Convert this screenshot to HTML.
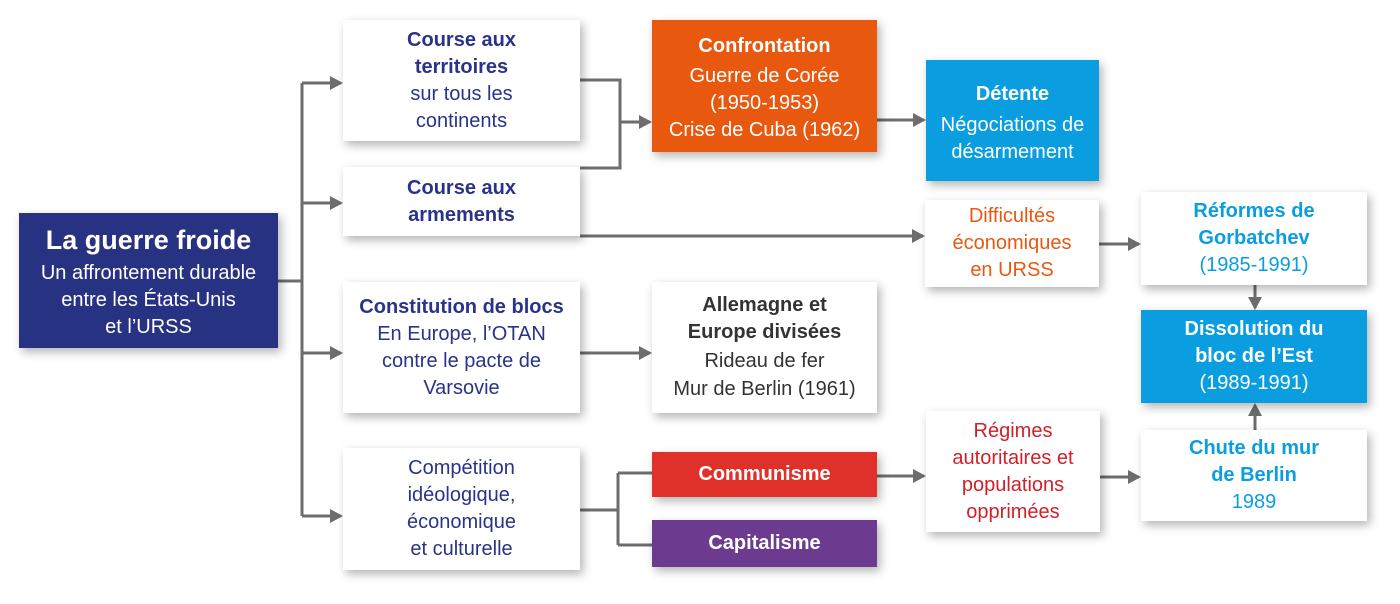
<!DOCTYPE html>
<html><head><meta charset="utf-8"><style>
body{margin:0;width:1400px;height:604px;background:#fff;position:relative;overflow:hidden;font-family:"Liberation Sans Narrow","Liberation Sans",sans-serif;}
.b{position:absolute;box-sizing:border-box;display:flex;flex-direction:column;justify-content:center;align-items:center;text-align:center;font-size:20px;line-height:27px;background:#fff;box-shadow:3px 4px 9px rgba(0,0,0,.3);color:#2a338a}
.b b{font-weight:bold}
svg{position:absolute;left:0;top:0}
</style></head><body>
<svg width="1400" height="604">
<defs><marker id="a" markerWidth="13" markerHeight="14" refX="11" refY="7" orient="auto" markerUnits="userSpaceOnUse"><path d="M0,0 L13,7 L0,14z" fill="#6d6d6d"/></marker></defs>
<g stroke="#6d6d6d" stroke-width="3" fill="none">
<path d="M278,281 H302 M302,83 V516"/>
<path d="M302,83 H341" marker-end="url(#a)"/>
<path d="M302,203 H341" marker-end="url(#a)"/>
<path d="M302,353 H341" marker-end="url(#a)"/>
<path d="M302,516 H341" marker-end="url(#a)"/>
<path d="M580,80 H620 V168 H580"/>
<path d="M620,122 H650" marker-end="url(#a)"/>
<path d="M580,236 H923" marker-end="url(#a)"/>
<path d="M877,120 H924" marker-end="url(#a)"/>
<path d="M580,353 H650" marker-end="url(#a)"/>
<path d="M580,510 H618 M618,473 V545 M618,473 H652 M618,545 H652"/>
<path d="M877,476 H924" marker-end="url(#a)"/>
<path d="M1099,244 H1139" marker-end="url(#a)"/>
<path d="M1100,477 H1139" marker-end="url(#a)"/>
<path d="M1255,285 V308" marker-end="url(#a)"/>
<path d="M1255,430 V405" marker-end="url(#a)"/>
</g></svg>
<div class="b" style="left:19px;top:213px;width:259px;height:135px;background:#283282;color:#fff"><b style="font-size:27px;line-height:40px">La guerre froide</b><span>Un affrontement durable<br>entre les États-Unis<br>et l’URSS</span></div>
<div class="b" style="left:343px;top:20px;width:237px;height:121px"><b>Course aux<br>territoires</b><span>sur tous les<br>continents</span></div>
<div class="b" style="left:343px;top:167px;width:237px;height:69px"><b>Course aux<br>armements</b></div>
<div class="b" style="left:343px;top:282px;width:237px;height:131px"><b>Constitution de blocs</b><span>En Europe, l’OTAN<br>contre le pacte de<br>Varsovie</span></div>
<div class="b" style="left:343px;top:448px;width:237px;height:122px"><span>Compétition<br>idéologique,<br>économique<br>et culturelle</span></div>
<div class="b" style="left:652px;top:20px;width:225px;height:132px;background:#e8580f;color:#fff"><b style="line-height:34px">Confrontation</b><span>Guerre de Corée<br>(1950-1953)<br>Crise de Cuba (1962)</span></div>
<div class="b" style="left:652px;top:282px;width:225px;height:131px;color:#333"><b>Allemagne et<br>Europe divisées</b><span style="line-height:30px">Rideau de fer<br></span><span>Mur de Berlin (1961)</span></div>
<div class="b" style="left:652px;top:452px;width:225px;height:45px;background:#e0302a;color:#fff"><b>Communisme</b></div>
<div class="b" style="left:652px;top:520px;width:225px;height:47px;background:#6c3a8e;color:#fff"><b>Capitalisme</b></div>
<div class="b" style="left:926px;top:60px;width:173px;height:121px;background:#0a9ee0;color:#fff"><b style="line-height:36px">Détente</b><span>Négociations de<br>désarmement</span></div>
<div class="b" style="left:925px;top:200px;width:174px;height:87px;color:#e8580f"><span>Difficultés<br>économiques<br>en URSS</span></div>
<div class="b" style="left:926px;top:411px;width:174px;height:121px;color:#d0202a"><span>Régimes<br>autoritaires et<br>populations<br>opprimées</span></div>
<div class="b" style="left:1141px;top:192px;width:226px;height:93px;color:#0a9ee0"><b>Réformes de<br>Gorbatchev</b><span>(1985-1991)</span></div>
<div class="b" style="left:1141px;top:310px;width:226px;height:93px;background:#0a9ee0;color:#fff"><b>Dissolution du<br>bloc de l’Est</b><span>(1989-1991)</span></div>
<div class="b" style="left:1141px;top:430px;width:226px;height:91px;color:#0a9ee0"><b>Chute du mur<br>de Berlin</b><span>1989</span></div>
</body></html>
